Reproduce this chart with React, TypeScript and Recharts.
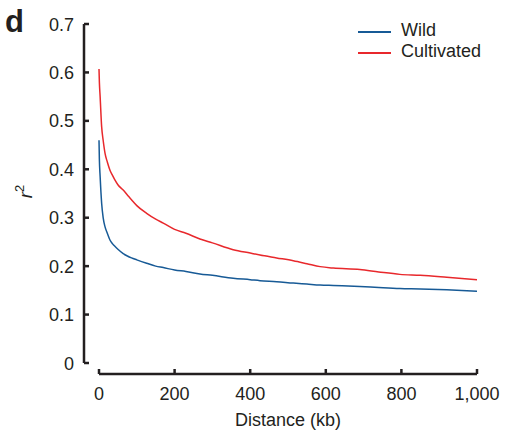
import React from 'react';
import { LineChart, Line, XAxis, YAxis, Legend } from 'recharts';

const distanceKb = [0, 1, 3, 7, 11, 16, 22, 29, 36, 42, 50, 64, 75, 86, 100, 126, 150, 170, 200, 230, 267, 300, 355, 400, 426, 470, 514, 550, 585, 620, 690, 740, 796, 850, 920, 1000];
const cultivated = [0.607, 0.58, 0.55, 0.488, 0.46, 0.433, 0.415, 0.398, 0.387, 0.378, 0.368, 0.357, 0.347, 0.337, 0.325, 0.309, 0.297, 0.289, 0.276, 0.268, 0.256, 0.248, 0.234, 0.227, 0.223, 0.217, 0.211, 0.205, 0.199, 0.196, 0.193, 0.188, 0.183, 0.181, 0.177, 0.172];
const wild = [0.46, 0.42, 0.385, 0.33, 0.3, 0.281, 0.268, 0.254, 0.246, 0.241, 0.235, 0.226, 0.221, 0.217, 0.213, 0.206, 0.2, 0.197, 0.192, 0.189, 0.184, 0.181, 0.175, 0.172, 0.17, 0.168, 0.165, 0.163, 0.161, 0.16, 0.158, 0.156, 0.154, 0.153, 0.151, 0.148];
const xTicks = [0, 200, 400, 600, 800, 1000];
const yTicks = [0, 0.1, 0.2, 0.3, 0.4, 0.5, 0.6, 0.7];

const data = distanceKb.map((kb, i) => ({ kb, wild: wild[i], cultivated: cultivated[i] }));

const INK = '#231f20';
const BLUE = '#175a96';
const RED = '#e8282c';
const FONT = '"Liberation Sans", Arial, Helvetica, sans-serif';

const XTick = (props: any) => {
  const { x, y, payload } = props;
  return (
    <g>
      <line x1={x} y1={y + 11} x2={x} y2={y + 6} stroke={INK} strokeWidth={2.5} />
      <text x={x} y={y + 37} textAnchor="middle" fontSize={18} fill={INK} fontFamily={FONT}>
        {Number(payload.value).toLocaleString('en-US')}
      </text>
    </g>
  );
};

const YTick = (props: any) => {
  const { x, y, payload } = props;
  return (
    <g>
      <line x1={x - 15} y1={y} x2={x - 10} y2={y} stroke={INK} strokeWidth={2.5} />
      <text x={x - 25} y={y + 6.5} textAnchor="end" fontSize={18} fill={INK} fontFamily={FONT}>
        {String(payload.value)}
      </text>
    </g>
  );
};

const XLabel = (props: any) => {
  const { viewBox } = props;
  const cx = viewBox.x + viewBox.width / 2;
  return (
    <text x={cx} y={viewBox.y + 63} textAnchor="middle" fontSize={18} fill={INK} fontFamily={FONT}>
      Distance (kb)
    </text>
  );
};

const YLabel = (props: any) => {
  const { viewBox } = props;
  const cy = viewBox.y + viewBox.height / 2 - 2;
  return (
    <text transform={`translate(32, ${cy}) rotate(-90)`} x={0} y={0} textAnchor="middle" fontSize={19} fill={INK} fontFamily={FONT}>
      <tspan fontStyle="italic">r</tspan>
      <tspan dy={-8} fontSize={13}>2</tspan>
    </text>
  );
};

const LegendContent = () => (
  <div style={{ fontFamily: FONT, fontSize: 18, color: INK, lineHeight: '21px' }}>
    {[
      { name: 'Wild', color: BLUE },
      { name: 'Cultivated', color: RED },
    ].map((it) => (
      <div key={it.name} style={{ display: 'flex', alignItems: 'center', height: 21 }}>
        <span style={{ display: 'inline-block', width: 33, height: 2.5, background: it.color, marginRight: 10, marginTop: 3 }} />
        <span>{it.name}</span>
      </div>
    ))}
  </div>
);

export default function App() {
  return (
    <div style={{ position: 'absolute', left: 0, top: 0, width: 525, height: 441, background: '#fff' }}>
      <div style={{ position: 'absolute', left: 5, top: 0, fontFamily: FONT, fontWeight: 'bold', fontSize: 31, color: INK, lineHeight: '44px' }}>d</div>
      <LineChart width={525} height={441} data={data} margin={{ top: 24, right: 48, bottom: 38, left: 0 }}>
        <XAxis
          dataKey="kb"
          type="number"
          domain={[0, 1000]}
          ticks={xTicks}
          tickSize={0}
          tickMargin={0}
          tickLine={false}
          axisLine={{ stroke: INK, strokeWidth: 2.5, transform: 'translate(0, 11)' }}
          tick={<XTick />}
          height={40}
          label={<XLabel />}
        />
        <YAxis
          type="number"
          domain={[0, 0.7]}
          ticks={yTicks}
          tickSize={0}
          tickMargin={0}
          tickLine={false}
          axisLine={{ stroke: INK, strokeWidth: 2.5, transform: 'translate(-15, 0)' }}
          tick={<YTick />}
          width={99}
          label={<YLabel />}
          interval={0}
        />
        <Legend
          layout="vertical"
          align="center"
          verticalAlign="middle"
          content={<LegendContent />}
          wrapperStyle={{ position: 'absolute', left: 358, top: 20, width: 'auto' }}
        />
        <Line dataKey="cultivated" name="Cultivated" stroke={RED} strokeWidth={1.5} dot={false} type="monotone" isAnimationActive={false} />
        <Line dataKey="wild" name="Wild" stroke={BLUE} strokeWidth={1.5} dot={false} type="monotone" isAnimationActive={false} />
      </LineChart>
    </div>
  );
}
